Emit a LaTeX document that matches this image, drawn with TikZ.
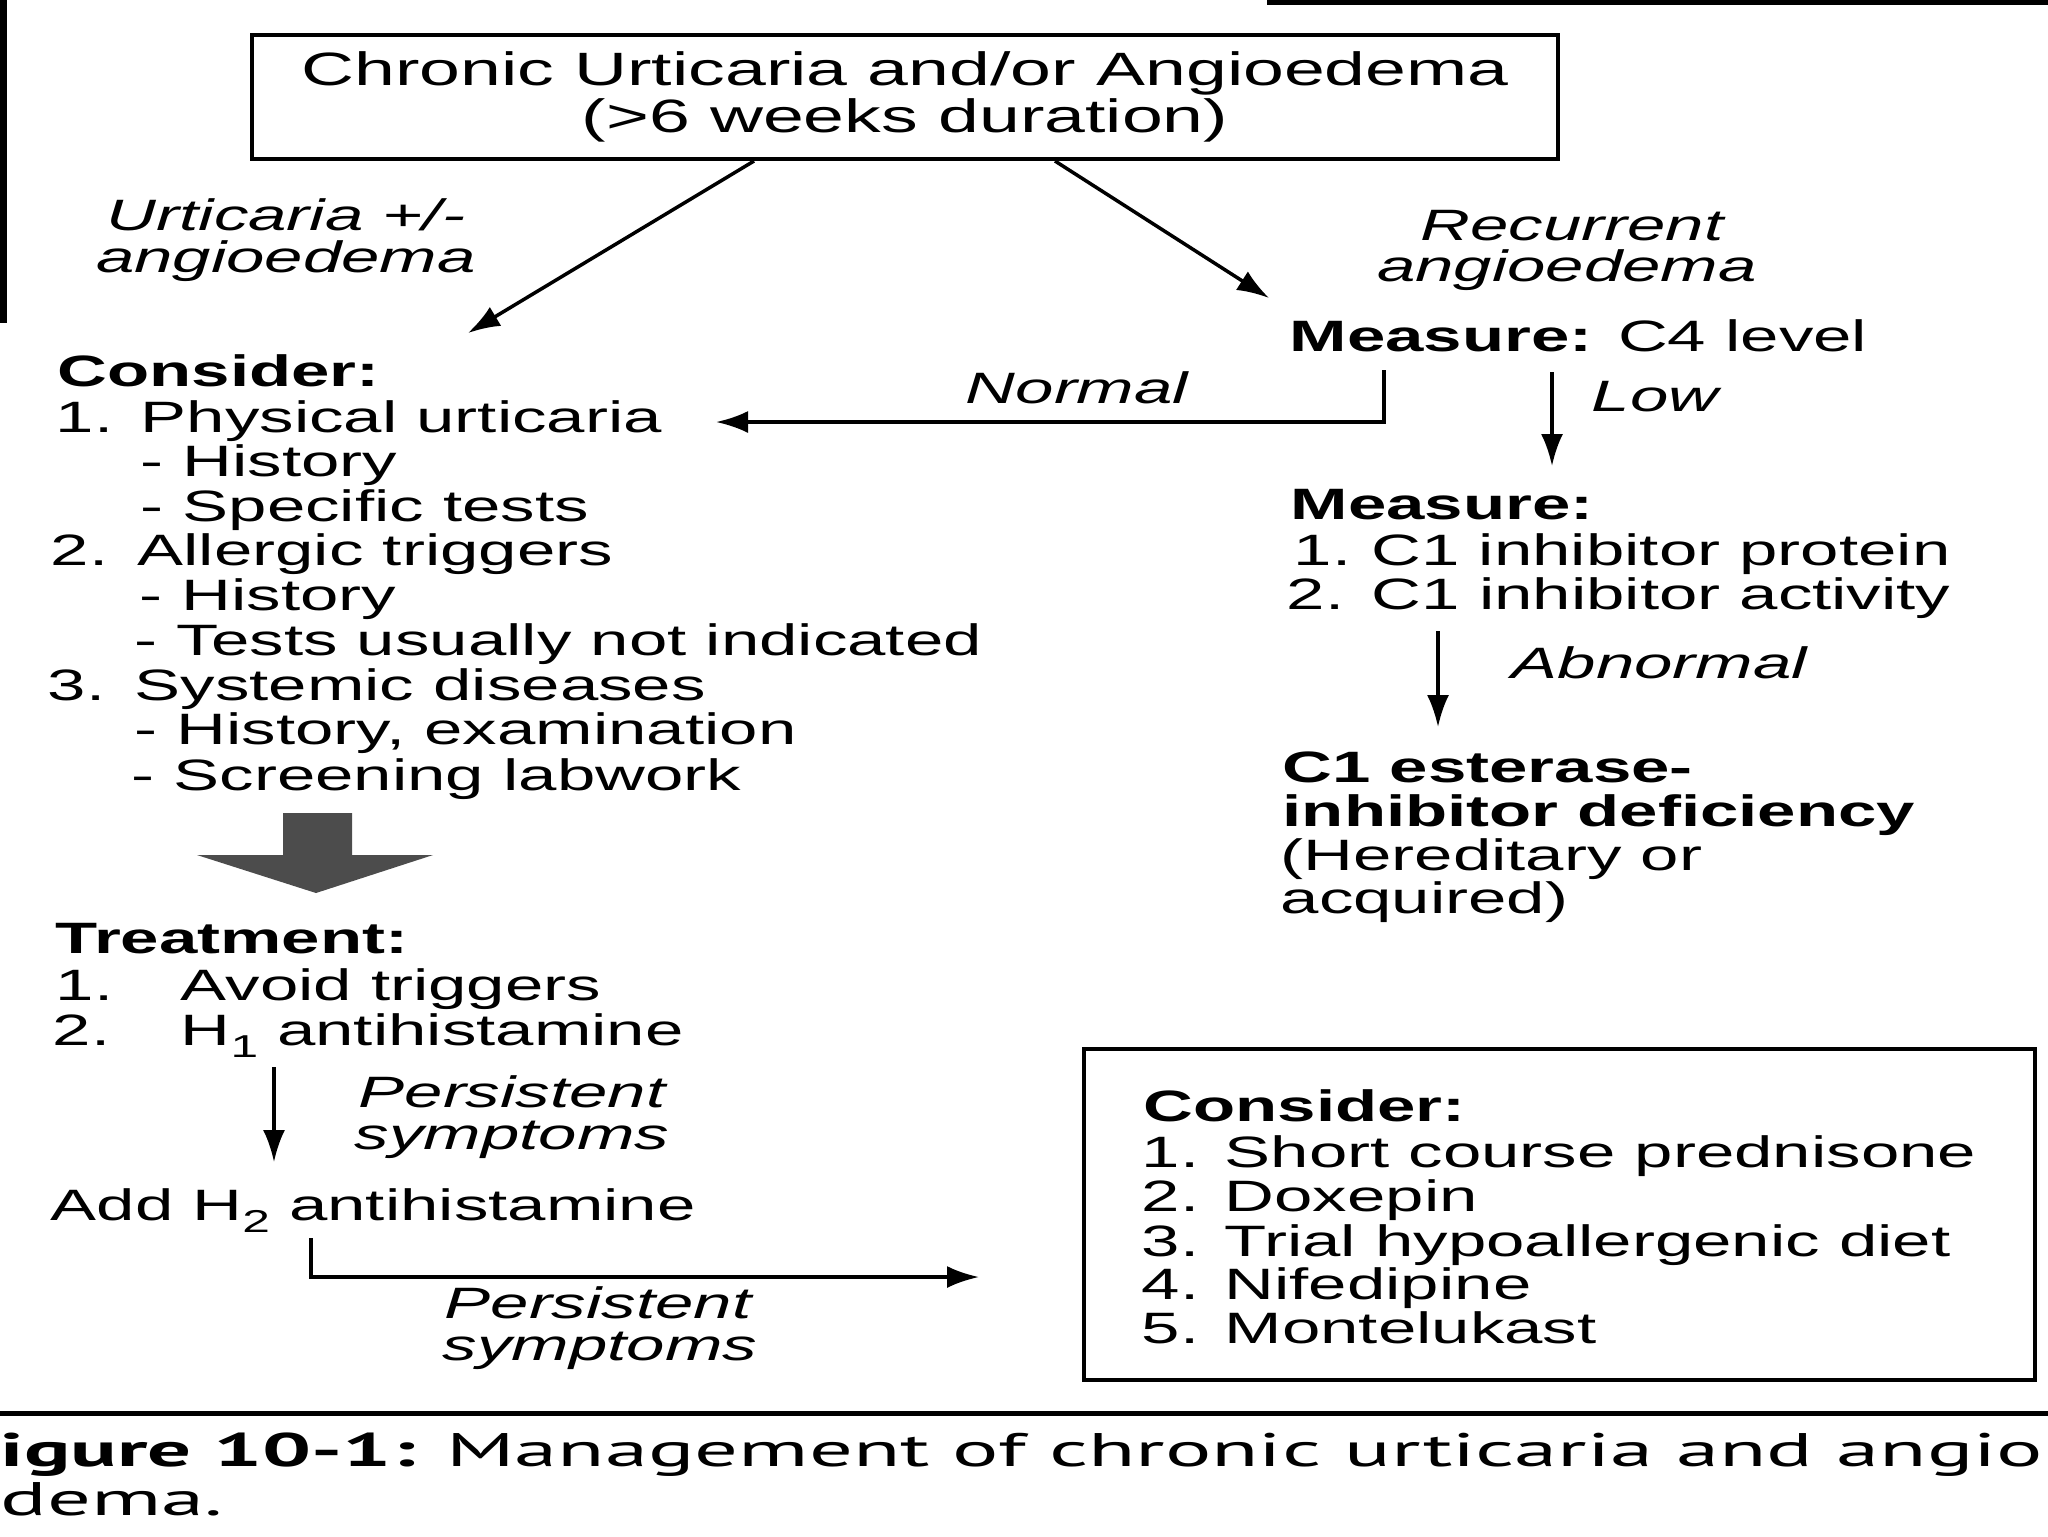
\documentclass[tikz,border=0pt]{standalone}
\usepackage{fontspec}
\setmainfont[FakeStretch=1.57]{Liberation Sans}
\newfontfamily\capfont[FakeStretch=1.84]{PT Sans}
\usetikzlibrary{arrows.meta}
\newcommand{\sbs}[1]{\raisebox{-0.55ex}{\fontsize{9}{9}\selectfont #1}}
\begin{document}
\begin{tikzpicture}[x=0.1mm,y=-0.1mm,
  txt/.style={anchor=base west,inner sep=0pt,font=\fontsize{12.5}{13}\selectfont},
  ctxt/.style={anchor=base,inner sep=0pt,font=\fontsize{12.5}{13}\selectfont\itshape},
  itxt/.style={anchor=base west,inner sep=0pt,font=\fontsize{12.5}{13}\selectfont\itshape},
  captxt/.style={anchor=base west,inner sep=0pt,font=\capfont\fontsize{13.4}{14}\selectfont},
  box/.style={draw,line width=0.4mm,inner sep=0pt},
  arr/.style={-{Latex[length=3.2mm,width=2.2mm]},line width=0.35mm},
  rule/.style={line width=0.5mm}]
\useasboundingbox (0,0) rectangle (2048,1536);
% page edges
\draw[line width=0.6mm] (1267,2) -- (2048,2);
\draw[line width=0.7mm] (3,0) -- (3,323);
% top box
\node[box,minimum width=130.6mm,minimum height=12.4mm,align=center,
  font=\fontsize{13.3}{13.5}\selectfont] (tb) at (905,97)
  {Chronic Urticaria and/or Angioedema\\(>6 weeks duration)};
% branch labels
\node[ctxt] (ul1) at (286,230) {Urticaria +/-};
\node[ctxt] (ul2) at (286,272) {angioedema};
\node[ctxt] (rl1) at (1572,240) {Recurrent};
\node[ctxt] (rl2) at (1567,281) {angioedema};
% right column
\node[txt] (m4) at (1289,351) {\textbf{Measure:} C4 level};
\node[ctxt] (nrm) at (1077,403) {Normal};
\node[itxt] (low) at (1591,411) {Low};
\node[txt] (mm) at (1290,519) {\textbf{Measure:}};
\node[txt] (c1p) at (1293,565) {\makebox[7.8mm][l]{1.}C1 inhibitor protein};
\node[txt] (c1a) at (1286,609) {\makebox[8.5mm][l]{2.}C1 inhibitor activity};
\node[itxt] (abn) at (1511,678) {Abnormal};
\node[txt] (d1) at (1282,782) {\textbf{C1 esterase-}};
\node[txt] (d2) at (1282,826) {\textbf{inhibitor deficiency}};
\node[txt] (d3) at (1280,870) {(Hereditary or};
\node[txt] (d4) at (1280,913) {acquired)};
% left column
\node[txt] (cons) at (57,386) {\textbf{Consider:}};
\node[txt] (p1) at (55,432) {\makebox[8.5mm][l]{1.}Physical urticaria};
\node[txt] (h1) at (140,476) {- History};
\node[txt] (st) at (140,521) {- Specific tests};
\node[txt] (p2) at (50,565) {\makebox[8.7mm][l]{2.}Allergic triggers};
\node[txt] (h2) at (139,610) {- History};
\node[txt] (tu) at (134,655) {- Tests usually not indicated};
\node[txt] (p3) at (47,700) {\makebox[8.7mm][l]{3.}Systemic diseases};
\node[txt] (h3) at (134,744) {- History, examination};
\node[txt] (sl) at (131,790) {- Screening labwork};
% big block arrow
\fill[black!70] (283,813) -- (352,813) -- (352,855) -- (433,855) -- (316,893)
  -- (197,855) -- (283,855) -- cycle;
% treatment
\node[txt] (tr) at (55,953) {\textbf{Treatment:}};
\node[txt] (t1) at (55,1000) {\makebox[12.5mm][l]{1.}Avoid triggers};
\node[txt] (t2) at (52,1045) {\makebox[12.8mm][l]{2.}H\sbs{1} antihistamine};
\node[ctxt] (ps1a) at (512,1107) {Persistent};
\node[ctxt] (ps1b) at (512,1149) {symptoms};
\node[txt] (add) at (50,1220) {Add H\sbs{2} antihistamine};
\node[ctxt] (ps2a) at (598,1318) {Persistent};
\node[ctxt] (ps2b) at (600,1360) {symptoms};
% bottom right box
\node[box,minimum width=95.1mm,minimum height=33.1mm] (cb) at (1559.5,1214.5) {};
\node[txt] (bc) at (1143,1121) {\textbf{Consider:}};
\node[txt] (b1) at (1141,1167) {\makebox[8.3mm][l]{1.}Short course prednisone};
\node[txt] (b2) at (1141,1211) {\makebox[8.3mm][l]{2.}Doxepin};
\node[txt] (b3) at (1141,1256) {\makebox[8.3mm][l]{3.}Trial hypoallergenic diet};
\node[txt] (b4) at (1141,1299) {\makebox[8.3mm][l]{4.}Nifedipine};
\node[txt] (b5) at (1141,1343) {\makebox[8.3mm][l]{5.}Montelukast};
% rule and caption
\draw[rule] (0,1413) -- (2048,1413);
\node[captxt] (cap1) at (0,1466)
  {\textbf{igure 10-1:} Management of chronic urticaria and angio};
\node[captxt] (cap2) at (0,1515) {dema.};
% connector end points
\coordinate (e1) at (468,333);
\coordinate (e2) at (1269,298);
\coordinate (ns) at (1384,370);
\coordinate (ne) at (716,422);
\coordinate (ls) at (1552,372);
\coordinate (le) at (1552,466);
\coordinate (as) at (1438,631);
\coordinate (ae) at (1438,727);
\coordinate (ps) at (274,1067);
\coordinate (pe) at (274,1162);
\coordinate (ks) at (311,1238);
\coordinate (ke) at (979,1277);
% connectors
\draw[arr] ([xshift=-15.1mm]tb.south) -- (e1);
\draw[arr] ([xshift=15.0mm]tb.south) -- (e2);
\draw[arr] (ns) |- (ne);
\draw[arr] (ls) -- (le);
\draw[arr] (as) -- (ae);
\draw[arr] (ps) -- (pe);
\draw[arr] (ks) |- (ke);
\end{tikzpicture}
\end{document}
